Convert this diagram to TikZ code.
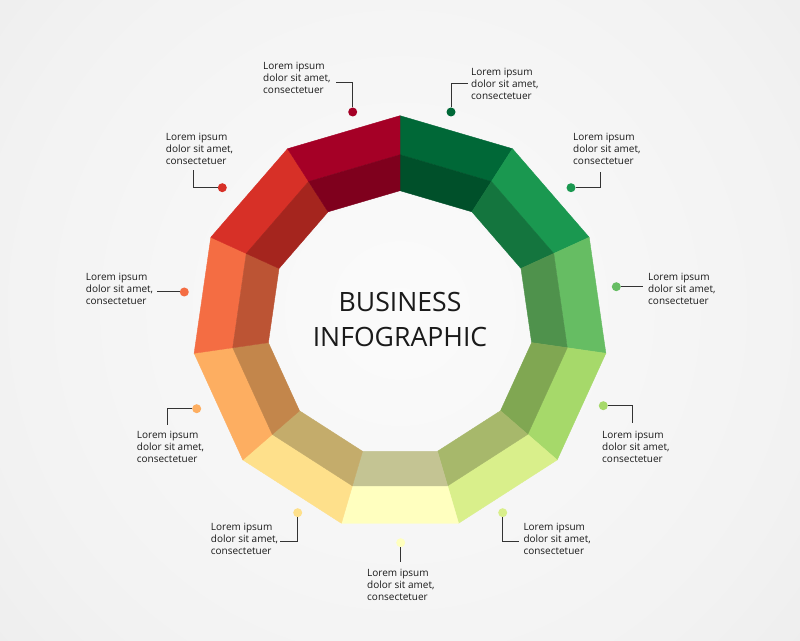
\documentclass[tikz,border=0pt]{standalone}
\usepackage{fontspec}
\setmainfont{Open Sans}
\definecolor{s0}{HTML}{006837}
\definecolor{s1}{HTML}{1A9850}
\definecolor{s2}{HTML}{66BD63}
\definecolor{s3}{HTML}{A6D96A}
\definecolor{s4}{HTML}{D9EF8B}
\definecolor{s5}{HTML}{FFFFBF}
\definecolor{s6}{HTML}{FEE08B}
\definecolor{s7}{HTML}{FDAE61}
\definecolor{s8}{HTML}{F46D43}
\definecolor{s9}{HTML}{D73027}
\definecolor{s10}{HTML}{A50026}
\definecolor{linec}{HTML}{333333}
\definecolor{txt}{HTML}{1A1A1A}
\definecolor{bgA}{HTML}{FBFBFB}
\definecolor{bgB}{HTML}{F2F2F2}
\definecolor{bgC}{HTML}{E3E3E3}
\definecolor{bgD}{HTML}{D9D9D9}
\pgfdeclareradialshading{bgshade}{\pgfpoint{0bp}{0bp}}{color(0bp)=(bgA); color(20bp)=(bgB); color(40bp)=(bgC); color(50bp)=(bgD)}
\begin{document}
\begin{tikzpicture}[x=1pt,y=1pt,
  lbl/.style={anchor=north west, inner sep=0pt, align=left, font=\fontsize{10}{12}\selectfont, text=txt},
  dotn/.style={circle, inner sep=0pt, minimum size=9pt, fill=#1},
  conn/.style={draw=linec, line width=1pt},
  titlebox/.style={align=center, font=\fontsize{26.6}{35}\selectfont, text=txt, inner sep=0pt}]
\useasboundingbox (0,0) rectangle (800,640);
% background
\begin{scope}
\clip (0,0) rectangle (800,640);
\shade[shading=bgshade] (400,330) circle (520);
\end{scope}
% ring
\begin{scope}[shift={(400,316.3)}]
\foreach \k in {0,...,10}{
  \pgfmathsetmacro\a{90-\k*360/11}
  \pgfmathsetmacro\b{90-(\k+1)*360/11}
  \fill[s\k, draw=s\k, line width=0.4pt, line join=round] (\a:208) -- (\b:208) -- (\b:169) -- (\a:169) -- cycle;
  \fill[s\k!77!black, draw=s\k!77!black, line width=0.4pt, line join=round] (\a:169) -- (\b:169) -- (\b:133) -- (\a:133) -- cycle;
}
\end{scope}
% title
\node[titlebox] (title) at (400,320.5) {BUSINESS\\INFOGRAPHIC};
% labels
\node[lbl] (l10) at (263,578) {Lorem ipsum\\dolor sit amet,\\consectetuer};
\node[lbl] (l0) at (471,572) {Lorem ipsum\\dolor sit amet,\\consectetuer};
\node[lbl] (l1) at (573,507) {Lorem ipsum\\dolor sit amet,\\consectetuer};
\node[lbl] (l2) at (648,367) {Lorem ipsum\\dolor sit amet,\\consectetuer};
\node[lbl] (l3) at (602,209) {Lorem ipsum\\dolor sit amet,\\consectetuer};
\node[lbl] (l4) at (523.3,117) {Lorem ipsum\\dolor sit amet,\\consectetuer};
\node[lbl] (l5) at (367,71) {Lorem ipsum\\dolor sit amet,\\consectetuer};
\node[lbl] (l6) at (210.7,117) {Lorem ipsum\\dolor sit amet,\\consectetuer};
\node[lbl] (l7) at (136.7,209) {Lorem ipsum\\dolor sit amet,\\consectetuer};
\node[lbl] (l8) at (85.7,367) {Lorem ipsum\\dolor sit amet,\\consectetuer};
\node[lbl] (l9) at (165.7,507) {Lorem ipsum\\dolor sit amet,\\consectetuer};
% dots
\node[dotn=s10] (d10) at (352.7,528) {};
\node[dotn=s0] (d0) at (451,528) {};
\node[dotn=s1] (d1) at (571,452.3) {};
\node[dotn=s2] (d2) at (616.3,353.3) {};
\node[dotn=s3] (d3) at (603.3,234.3) {};
\node[dotn=s4] (d4) at (502.7,127.3) {};
\node[dotn=s5] (d5) at (400.7,97.3) {};
\node[dotn=s6] (d6) at (297.7,127.3) {};
\node[dotn=s7] (d7) at (196.7,231.3) {};
\node[dotn=s8] (d8) at (184.3,348) {};
\node[dotn=s9] (d9) at (222.3,452.3) {};
% connector ends
\coordinate (e10) at (336,557);
\coordinate (e0) at (468,556);
\coordinate (e1) at (600.7,468.3);
\coordinate (e2) at (643,353.3);
\coordinate (e3) at (632.3,217.3);
\coordinate (e4) at (519.3,98.3);
\coordinate (e5) at (400.7,78);
\coordinate (e6) at (280,98.3);
\coordinate (e7) at (167.7,215);
\coordinate (e8) at (156.7,348);
\coordinate (e9) at (193.3,470);
% connectors
\draw[conn] (d10) |- (e10);
\draw[conn] (d0) |- (e0);
\draw[conn] (d1) -| (e1);
\draw[conn] (d2) -- (e2);
\draw[conn] (d3) -| (e3);
\draw[conn] (d4) |- (e4);
\draw[conn] (d5) -- (e5);
\draw[conn] (d6) |- (e6);
\draw[conn] (d7) -| (e7);
\draw[conn] (d8) -- (e8);
\draw[conn] (d9) -| (e9);
\end{tikzpicture}
\end{document}
